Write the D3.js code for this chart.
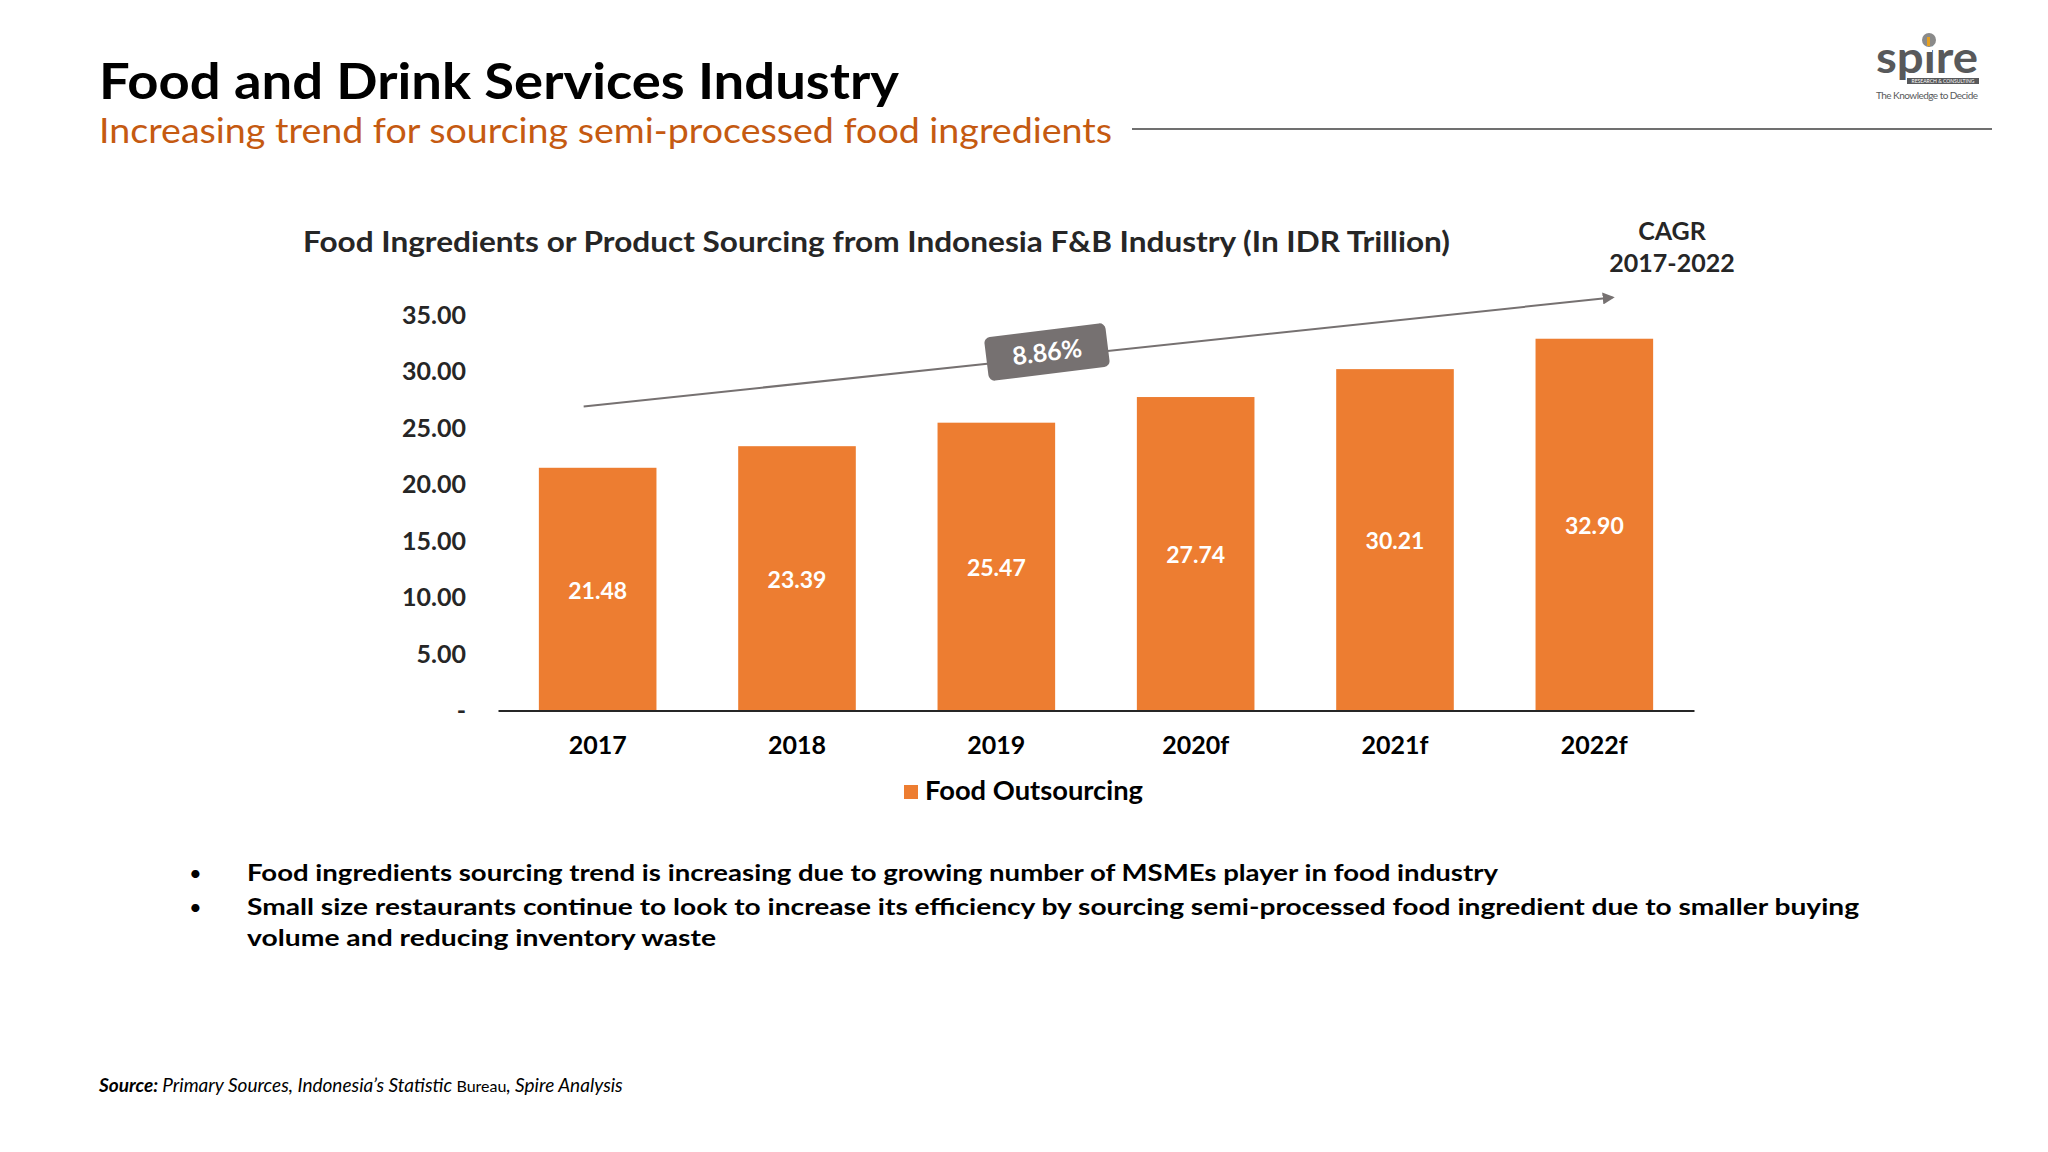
<!DOCTYPE html>
<html>
<head>
<meta charset="utf-8">
<script src="https://cdn.jsdelivr.net/npm/d3@7"></script>
<style>
  body { margin: 0; background: #ffffff; }
  svg { display: block; font-family: "Lato", "Open Sans", sans-serif; }
</style>
</head>
<body>
<div id="viz-container"></div>
<script>
// data
const years = ["2017", "2018", "2019", "2020f", "2021f", "2022f"];
const foodOutsourcing = [21.48, 23.39, 25.47, 27.74, 30.21, 32.90];
const yTicks = [0, 5, 10, 15, 20, 25, 30, 35];
const seriesName = "Food Outsourcing";
const cagrValue = "8.86%";
const cagrLabel = ["CAGR", "2017-2022"];
const bullets = [
  ["Food ingredients sourcing trend is increasing due to growing number of MSMEs player in food industry"],
  ["Small size restaurants continue to look to increase its efficiency by sourcing semi-processed food ingredient due to smaller buying",
   "volume and reducing inventory waste"]
];

const orange = "#ed7d31";

let viz = d3.select("#viz-container")
  .append("svg")
    .attr("width", 2048)
    .attr("height", 1152)
;

// header
viz.append("text")
  .text("Food and Drink Services Industry")
    .attr("x", 99)
    .attr("y", 99)
    .attr("font-size", 50)
    .attr("font-weight", 700)
    .attr("fill", "#000")
    .attr("textLength", 800)
    .attr("lengthAdjust", "spacingAndGlyphs")
;
viz.append("text")
  .text("Increasing trend for sourcing semi-processed food ingredients")
    .attr("x", 99)
    .attr("y", 143)
    .attr("font-size", 34)
    .attr("fill", "#c55a11")
    .attr("textLength", 1013)
    .attr("lengthAdjust", "spacingAndGlyphs")
;
viz.append("line")
  .attr("x1", 1132)
  .attr("x2", 1992)
  .attr("y1", 129)
  .attr("y2", 129)
  .attr("stroke", "#404040")
  .attr("stroke-width", 1.5)
;

// logo
let logo = viz.append("g").attr("transform", "translate(1876,0)");
logo.append("text")
  .text("spire")
    .attr("x", 0)
    .attr("y", 73)
    .attr("font-size", 44)
    .attr("font-weight", 700)
    .attr("fill", "#58595b")
    .attr("textLength", 102)
    .attr("lengthAdjust", "spacingAndGlyphs")
;
logo.append("rect")
  .attr("x", 48).attr("y", 44).attr("width", 8).attr("height", 8)
  .attr("fill", "#fff")
;
logo.append("circle")
  .attr("cx", 53).attr("cy", 40).attr("r", 7)
  .attr("fill", "#8a8a8a")
;
logo.append("rect")
  .attr("x", 51).attr("y", 37).attr("width", 3).attr("height", 9)
  .attr("fill", "#e6a020")
;
logo.append("rect")
  .attr("x", 31).attr("y", 78).attr("width", 72).attr("height", 6)
  .attr("fill", "#58595b")
;
logo.append("text")
  .text("RESEARCH & CONSULTING")
    .attr("x", 67).attr("y", 83)
    .attr("text-anchor", "middle")
    .attr("font-size", 5)
    .attr("fill", "#fff")
;
logo.append("text")
  .text("The Knowledge to Decide")
    .attr("x", 0).attr("y", 99)
    .attr("font-size", 10)
    .attr("fill", "#58595b")
    .attr("textLength", 102)
;

// chart
viz.append("text")
  .text("Food Ingredients or Product Sourcing from Indonesia F&B Industry (In IDR Trillion)")
    .attr("x", 303)
    .attr("y", 252)
    .attr("font-size", 29)
    .attr("font-weight", 700)
    .attr("fill", "#262626")
    .attr("textLength", 1147)
    .attr("lengthAdjust", "spacingAndGlyphs")
;
viz.selectAll(".cagr").data(cagrLabel).enter()
  .append("text")
    .attr("class", "cagr")
    .text(d => d)
    .attr("x", 1672)
    .attr("y", (d, i) => 240 + i * 32)
    .attr("text-anchor", "middle")
    .attr("font-size", 25)
    .attr("font-weight", 700)
    .attr("fill", "#262626")
;

let x = d3.scaleBand().domain(years).range([498, 1694]).paddingInner(0.41).paddingOuter(0.205);
let y = d3.scaleLinear().domain([0, 35]).range([710.5, 315]);

let yAxis = d3.axisLeft(y)
  .tickValues(yTicks)
  .tickSize(0)
  .tickPadding(32)
  .tickFormat(d => d === 0 ? "-" : d3.format(".2f")(d));
let yg = viz.append("g").attr("transform", "translate(498,0)").call(yAxis);
yg.select(".domain").remove();
yg.selectAll("text")
  .attr("font-family", "Lato, sans-serif")
  .attr("font-size", 25)
  .attr("font-weight", 700)
  .attr("fill", "#262626");

let bars = viz.selectAll(".bar").data(foodOutsourcing).enter()
  .append("g")
    .attr("class", "bar")
;
bars.append("rect")
  .attr("x", (d, i) => x(years[i]))
  .attr("y", d => y(d))
  .attr("width", x.bandwidth())
  .attr("height", d => y(0) - y(d))
  .attr("fill", orange)
;
bars.append("text")
  .text(d => d3.format(".2f")(d))
  .attr("x", (d, i) => x(years[i]) + x.bandwidth() / 2)
  .attr("y", d => (y(d) + y(0)) / 2)
  .attr("dy", "0.42em")
  .attr("text-anchor", "middle")
  .attr("font-size", 23)
  .attr("font-weight", 700)
  .attr("fill", "#fff")
;

let xAxis = d3.axisBottom(x).tickSize(0).tickPadding(26);
let xg = viz.append("g").attr("transform", "translate(0,710.5)").call(xAxis);
xg.select(".domain").attr("stroke", "#262626").attr("stroke-width", 2);
xg.selectAll("text")
  .attr("font-family", "Lato, sans-serif")
  .attr("font-size", 25)
  .attr("font-weight", 700)
  .attr("fill", "#000");

// legend
viz.append("rect")
  .attr("x", 904).attr("y", 785).attr("width", 14).attr("height", 14)
  .attr("fill", orange)
;
viz.append("text")
  .text(seriesName)
    .attr("x", 925)
    .attr("y", 800)
    .attr("font-size", 26)
    .attr("font-weight", 700)
    .attr("fill", "#000")
    .attr("textLength", 218)
    .attr("lengthAdjust", "spacingAndGlyphs")
;

// CAGR arrow
viz.append("defs").append("marker")
  .attr("id", "head")
  .attr("viewBox", "0 0 10 10")
  .attr("refX", 8).attr("refY", 5)
  .attr("markerWidth", 6).attr("markerHeight", 6)
  .attr("orient", "auto")
  .append("path")
    .attr("d", "M0,0L10,5L0,10Z")
    .attr("fill", "#767171")
;
let ax1 = x(years[0]) + x.bandwidth() / 2 - 14, ay1 = y(26.9);
let ax2 = x(years[5]) + x.bandwidth() / 2 + 18, ay2 = y(36.55);
viz.append("line")
  .attr("x1", ax1).attr("y1", ay1)
  .attr("x2", ax2).attr("y2", ay2)
  .attr("stroke", "#767171")
  .attr("stroke-width", 2)
  .attr("marker-end", "url(#head)")
;
let angle = Math.atan2(ay2 - ay1, ax2 - ax1) * 180 / Math.PI;
let badge = viz.append("g")
  .attr("transform", "translate(1047,352) rotate(" + (angle - 1) + ")");
badge.append("rect")
  .attr("x", -61).attr("y", -22).attr("width", 122).attr("height", 44)
  .attr("rx", 6)
  .attr("fill", "#767171")
;
badge.append("text")
  .text(cagrValue)
  .attr("x", 0).attr("y", 0).attr("dy", "0.36em")
  .attr("text-anchor", "middle")
  .attr("font-size", 25)
  .attr("font-weight", 700)
  .attr("fill", "#fff")
;

// bullets
const bulletWidths = [[1251], [1612, 469]];
const lineY = [881, 915, 946];
let lineNo = 0;
bullets.forEach(function(b, bi){
  viz.append("text")
    .text("\u2022")
    .attr("x", 189)
    .attr("y", lineY[lineNo])
    .attr("font-size", 22)
    .attr("fill", "#000");
  b.forEach(function(line, li){
    viz.append("text")
      .text(line)
      .attr("x", 247)
      .attr("y", lineY[lineNo])
      .attr("font-size", 23)
      .attr("font-weight", 700)
      .attr("fill", "#000")
      .attr("textLength", bulletWidths[bi][li])
      .attr("lengthAdjust", "spacingAndGlyphs");
    lineNo++;
  });
});

// source
let src = viz.append("text")
  .attr("x", 99)
  .attr("y", 1092)
  .attr("font-size", 19)
  .attr("font-style", "italic")
  .attr("fill", "#000")
;
src.append("tspan").text("Source: ").attr("font-weight", 700);
src.append("tspan").text("Primary Sources, Indonesia\u2019s Statistic ");
src.append("tspan").text("Bureau").attr("font-style", "normal").attr("font-size", 16);
src.append("tspan").text(", Spire Analysis");
</script>
</body>
</html>
